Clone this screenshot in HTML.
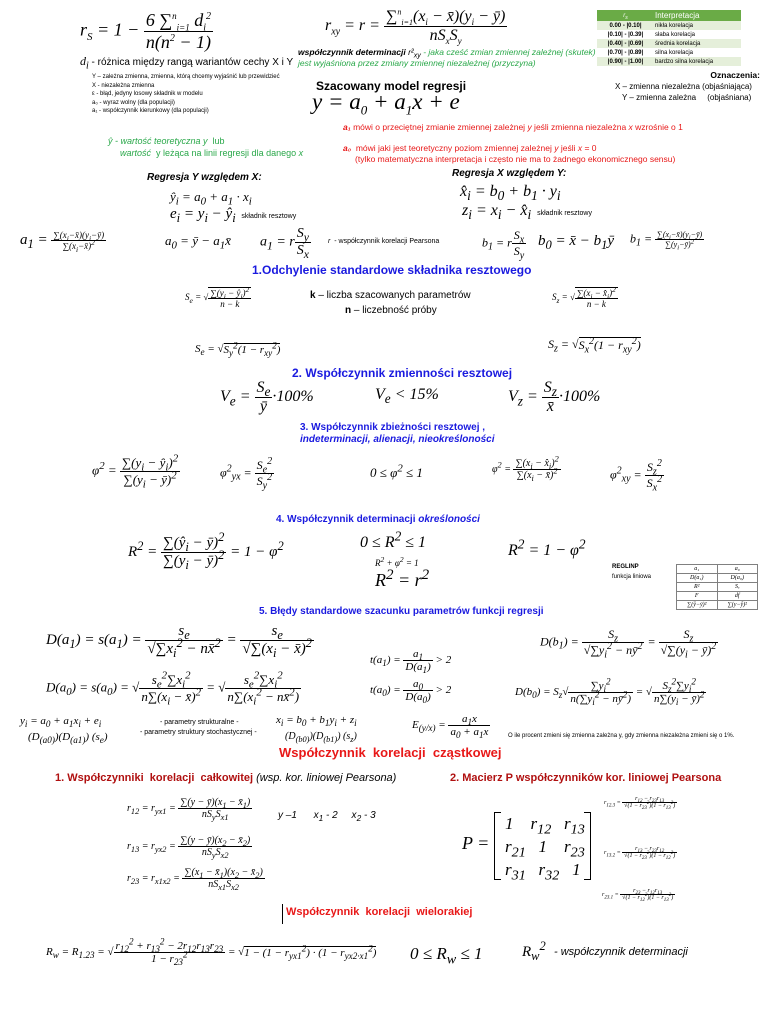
<!DOCTYPE html>
<html><head><meta charset="utf-8"><style>
body{margin:0;width:768px;height:1024px;background:#fff;position:relative;overflow:hidden;font-family:"Liberation Sans",sans-serif;color:#000}
.a{position:absolute;white-space:nowrap}
sub,sup{line-height:0}
.m{font-family:"Liberation Serif",serif;font-style:italic}
.fr{display:inline-block;vertical-align:middle;text-align:center}
.fr>span{display:block;padding:0 2px}
.fr>span:first-child{border-bottom:1px solid #000}
.sq{display:inline-block;border-top:1px solid #000;vertical-align:middle}
.blue{color:#1a1adf;font-weight:bold}
.red{color:#e81818}
.green{color:#2aa84a}
.dr{color:#b01010;font-weight:bold}
table{border-collapse:collapse}
.br{position:absolute;width:6px;border:1.5px solid #000}
</style></head><body>

<div class="a m" style="left:80px;top:10px;font-size:18px">r<sub style="font-size:11px">S</sub> = 1 − <span class="fr"><span>6 ∑<sup style="font-size:9px">n</sup><sub style="font-size:9px">i=1</sub> d<sub style="font-size:10px">i</sub><sup style="font-size:10px">2</sup></span><span>n(n<sup style="font-size:10px">2</sup> − 1)</span></span></div>
<div class="a" style="left:80px;top:54px;font-size:10px"><span class="m" style="font-size:12px">d<sub>i</sub></span> - różnica między rangą wariantów cechy X i Y</div>
<div class="a" style="left:92px;top:73px;font-size:6px;line-height:8.5px">Y – zależna zmienna, zmienna, którą chcemy wyjaśnić lub przewidzieć<br>X - niezależna zmienna<br>ε - błąd, jedyny losowy składnik w modelu<br>a₀ - wyraz wolny (dla populacji)<br>a₁ - współczynnik kierunkowy (dla populacji)</div>
<div class="a green" style="left:108px;top:136px;font-size:9px;font-style:italic">ŷ - wartość teoretyczna y &nbsp;<span style="font-style:normal">lub</span></div>
<div class="a green" style="left:120px;top:148px;font-size:9px"><i>wartość</i> &nbsp;y leżąca na linii regresji dla danego <i>x</i></div>

<div class="a m" style="left:325px;top:8px;font-size:16px">r<sub style="font-size:10px">xy</sub> = r = <span class="fr"><span>∑<sup style="font-size:8px">n</sup><sub style="font-size:8px">i=1</sub>(x<sub style="font-size:9px">i</sub> − x̄)(y<sub style="font-size:9px">i</sub> − ȳ)</span><span>nS<sub style="font-size:9px">x</sub>S<sub style="font-size:9px">y</sub></span></span></div>
<div class="a" style="left:298px;top:47px;font-size:8.5px"><b><i>współczynnik determinacji</i></b> <i>r²<sub>xy</sub></i> <span class="green"><i>- jaka cześć zmian zmiennej zależnej (skutek)</i></span></div>
<div class="a green" style="left:298px;top:58px;font-size:8.5px;font-style:italic">jest wyjaśniona przez zmiany zmiennej niezależnej (przyczyna)</div>

<table class="a" style="left:597px;top:10px;width:144px;font-size:6px">
<tr style="background:#6aab46;color:#fff;height:10px"><td style="text-align:center;width:55px"><i>r<sub>s</sub></i></td><td style="font-size:8px">Interpretacja</td></tr>
<tr style="background:#e5efda;height:9px"><td style="text-align:center;font-weight:bold">0.00 - |0.10|</td><td>nikła korelacja</td></tr>
<tr style="height:9px"><td style="text-align:center;font-weight:bold">|0.10| - |0.39|</td><td>słaba korelacja</td></tr>
<tr style="background:#e5efda;height:9px"><td style="text-align:center;font-weight:bold">|0.40| - |0.69|</td><td>średnia korelacja</td></tr>
<tr style="height:9px"><td style="text-align:center;font-weight:bold">|0.70| - |0.89|</td><td>silna korelacja</td></tr>
<tr style="background:#e5efda;height:9px"><td style="text-align:center;font-weight:bold">|0.90| - |1.00|</td><td>bardzo silna korelacja</td></tr>
</table>
<div class="a" style="right:8px;top:70px;font-size:8.5px;font-weight:bold">Oznaczenia:</div>
<div class="a" style="left:615px;top:82px;font-size:8px">X – zmienna niezależna (objaśniająca)</div>
<div class="a" style="left:622px;top:93px;font-size:8px">Y – zmienna zależna &nbsp;&nbsp;&nbsp;&nbsp;(objaśniana)</div>

<div class="a" style="left:316px;top:79px;font-size:12px;font-weight:bold">Szacowany model regresji</div>
<div class="a m" style="left:312px;top:89px;font-size:23px">y = a<sub style="font-size:13px">0</sub> + a<sub style="font-size:13px">1</sub>x + e</div>
<div class="a red" style="left:343px;top:122px;font-size:8.5px"><b><i>a₁</i></b> mówi o przeciętnej zmianie zmiennej zależnej <i>y</i> jeśli zmienna niezależna <i>x</i> wzrośnie o 1</div>
<div class="a red" style="left:343px;top:143px;font-size:8.5px"><b><i>a₀</i></b> &nbsp;mówi jaki jest teoretyczny poziom zmiennej zależnej <i>y</i> jeśli <i>x</i> = 0</div>
<div class="a red" style="left:355px;top:154px;font-size:8.5px">(tylko matematyczna interpretacja i często nie ma to żadnego ekonomicznego sensu)</div>

<div class="a" style="left:147px;top:172px;font-size:10px;font-weight:bold;font-style:italic">Regresja Y względem X:</div>
<div class="a" style="left:452px;top:168px;font-size:10px;font-weight:bold;font-style:italic">Regresja X względem Y:</div>
<div class="a m" style="left:170px;top:189px;font-size:13px">ŷ<sub>i</sub> = a<sub>0</sub> + a<sub>1</sub> · x<sub>i</sub></div>
<div class="a m" style="left:170px;top:206px;font-size:15px">e<sub>i</sub> = y<sub>i</sub> − ŷ<sub>i</sub> <span style="font-family:'Liberation Sans';font-style:normal;font-size:7px">&nbsp;składnik resztowy</span></div>
<div class="a m" style="left:460px;top:183px;font-size:16px">x̂<sub>i</sub> = b<sub>0</sub> + b<sub>1</sub> · y<sub>i</sub></div>
<div class="a m" style="left:462px;top:202px;font-size:16px">z<sub>i</sub> = x<sub>i</sub> − x̂<sub>i</sub> <span style="font-family:'Liberation Sans';font-style:normal;font-size:7px">&nbsp;składnik resztowy</span></div>

<div class="a m" style="left:20px;top:230px;font-size:15px">a<sub>1</sub> = <span class="fr" style="font-size:9px"><span>∑(x<sub>i</sub>−x̄)(y<sub>i</sub>−ȳ)</span><span>∑(x<sub>i</sub>−x̄)<sup>2</sup></span></span></div>
<div class="a m" style="left:165px;top:233px;font-size:13px">a<sub>0</sub> = ȳ − a<sub>1</sub>x̄</div>
<div class="a m" style="left:260px;top:226px;font-size:14px">a<sub>1</sub> = r<span class="fr"><span>S<sub>y</sub></span><span>S<sub>x</sub></span></span></div>
<div class="a" style="left:328px;top:238px;font-size:7px"><i>r</i> &nbsp;- współczynnik korelacji Pearsona</div>
<div class="a m" style="left:482px;top:228px;font-size:12px">b<sub>1</sub> = r<span class="fr"><span>S<sub>x</sub></span><span>S<sub>y</sub></span></span></div>
<div class="a m" style="left:538px;top:233px;font-size:15px">b<sub>0</sub> = x̄ − b<sub>1</sub>ȳ</div>
<div class="a m" style="left:630px;top:230px;font-size:12px">b<sub>1</sub> = <span class="fr" style="font-size:8px"><span>∑(x<sub>i</sub>−x̄)(y<sub>i</sub>−ȳ)</span><span>∑(y<sub>i</sub>−ȳ)<sup>2</sup></span></span></div>

<div class="a blue" style="left:252px;top:263px;font-size:12px">1.Odchylenie standardowe składnika resztowego</div>

<div class="a m" style="left:185px;top:287px;font-size:9px">S<sub>e</sub> = √<span class="sq"><span class="fr"><span>∑(y<sub>i</sub> − ŷ<sub>i</sub>)<sup>2</sup></span><span style="border:0">n − k</span></span></span></div>
<div class="a" style="left:310px;top:290px;font-size:10px"><b>k</b> – liczba szacowanych parametrów</div>
<div class="a" style="left:345px;top:305px;font-size:10px"><b>n</b> – liczebność próby</div>
<div class="a m" style="left:552px;top:287px;font-size:9px">S<sub>z</sub> = √<span class="sq"><span class="fr"><span>∑(x<sub>i</sub> − x̂<sub>i</sub>)<sup>2</sup></span><span style="border:0">n − k</span></span></span></div>
<div class="a m" style="left:195px;top:343px;font-size:11px">S<sub>e</sub> = √<span class="sq">S<sub>y</sub><sup>2</sup>(1 − r<sub>xy</sub><sup>2</sup>)</span></div>
<div class="a m" style="left:548px;top:337px;font-size:12px">S<sub>z</sub> = √<span class="sq">S<sub>x</sub><sup>2</sup>(1 − r<sub>xy</sub><sup>2</sup>)</span></div>

<div class="a blue" style="left:292px;top:366px;font-size:12px">2. Współczynnik zmienności resztowej</div>
<div class="a m" style="left:220px;top:379px;font-size:16px">V<sub>e</sub> = <span class="fr"><span>S<sub>e</sub></span><span>ȳ</span></span>·100%</div>
<div class="a m" style="left:375px;top:386px;font-size:16px">V<sub>e</sub> &lt; 15%</div>
<div class="a m" style="left:508px;top:379px;font-size:16px">V<sub>z</sub> = <span class="fr"><span>S<sub>z</sub></span><span>x̄</span></span>·100%</div>

<div class="a blue" style="left:300px;top:422px;font-size:10px">3. Współczynnik zbieżności resztowej ,</div>
<div class="a blue" style="left:300px;top:434px;font-size:10px;font-style:italic">indeterminacji, alienacji, nieokreśloności</div>

<div class="a m" style="left:92px;top:455px;font-size:13px">φ<sup>2</sup> = <span class="fr"><span>∑(y<sub>i</sub> − ŷ<sub>i</sub>)<sup>2</sup></span><span>∑(y<sub>i</sub> − ȳ)<sup>2</sup></span></span></div>
<div class="a m" style="left:220px;top:458px;font-size:12px">φ<sup>2</sup><sub>yx</sub> = <span class="fr"><span>S<sub>e</sub><sup>2</sup></span><span>S<sub>y</sub><sup>2</sup></span></span></div>
<div class="a m" style="left:370px;top:465px;font-size:13px">0 ≤ φ<sup>2</sup> ≤ 1</div>
<div class="a m" style="left:492px;top:458px;font-size:10px">φ<sup>2</sup> = <span class="fr"><span>∑(x<sub>i</sub> − x̂<sub>i</sub>)<sup>2</sup></span><span>∑(x<sub>i</sub> − x̄)<sup>2</sup></span></span></div>
<div class="a m" style="left:610px;top:460px;font-size:12px">φ<sup>2</sup><sub>xy</sub> = <span class="fr"><span>S<sub>z</sub><sup>2</sup></span><span>S<sub>x</sub><sup>2</sup></span></span></div>

<div class="a blue" style="left:276px;top:514px;font-size:10px">4. Współczynnik determinacji <i>określoności</i></div>
<div class="a m" style="left:128px;top:535px;font-size:15px">R<sup>2</sup> = <span class="fr"><span>∑(ŷ<sub>i</sub> − ȳ)<sup>2</sup></span><span>∑(y<sub>i</sub> − ȳ)<sup>2</sup></span></span> = 1 − φ<sup>2</sup></div>
<div class="a m" style="left:360px;top:534px;font-size:16px">0 ≤ R<sup>2</sup> ≤ 1</div>
<div class="a m" style="left:375px;top:558px;font-size:9px">R<sup>2</sup> + φ<sup>2</sup> = 1</div>
<div class="a m" style="left:375px;top:570px;font-size:18px">R<sup>2</sup> = r<sup>2</sup></div>
<div class="a m" style="left:508px;top:542px;font-size:16px">R<sup>2</sup> = 1 − φ<sup>2</sup></div>
<div class="a" style="left:612px;top:564px;font-size:6px;font-weight:bold">REGLINP</div>
<div class="a" style="left:612px;top:574px;font-size:6px">funkcja liniowa</div>
<table class="a m" style="left:676px;top:564px;width:82px;font-size:6px;text-align:center" border="1">
<tr><td>a₁</td><td>a₀</td></tr><tr><td>D(a₁)</td><td>D(a₀)</td></tr><tr><td>R²</td><td>Sₑ</td></tr><tr><td>F</td><td>df</td></tr><tr><td>∑(ŷ−ȳ)²</td><td>∑(y−ŷ)²</td></tr></table>

<div class="a blue" style="left:259px;top:606px;font-size:10px">5. Błędy standardowe szacunku parametrów funkcji regresji</div>
<div class="a m" style="left:46px;top:623px;font-size:15px">D(a<sub>1</sub>) = s(a<sub>1</sub>) = <span class="fr"><span>s<sub>e</sub></span><span>√∑x<sub>i</sub><sup>2</sup> − nx̄<sup>2</sup></span></span> = <span class="fr"><span>s<sub>e</sub></span><span>√∑(x<sub>i</sub> − x̄)<sup>2</sup></span></span></div>
<div class="a m" style="left:46px;top:672px;font-size:13px">D(a<sub>0</sub>) = s(a<sub>0</sub>) = √<span class="fr"><span>s<sub>e</sub><sup>2</sup>∑x<sub>i</sub><sup>2</sup></span><span>n∑(x<sub>i</sub> − x̄)<sup>2</sup></span></span> = √<span class="fr"><span>s<sub>e</sub><sup>2</sup>∑x<sub>i</sub><sup>2</sup></span><span>n∑(x<sub>i</sub><sup>2</sup> − nx̄<sup>2</sup>)</span></span></div>
<div class="a m" style="left:370px;top:648px;font-size:11px">t(a<sub>1</sub>) = <span class="fr"><span>a<sub>1</sub></span><span>D(a<sub>1</sub>)</span></span> &gt; 2</div>
<div class="a m" style="left:370px;top:678px;font-size:11px">t(a<sub>0</sub>) = <span class="fr"><span>a<sub>0</sub></span><span>D(a<sub>0</sub>)</span></span> &gt; 2</div>
<div class="a m" style="left:540px;top:627px;font-size:12px">D(b<sub>1</sub>) = <span class="fr"><span>S<sub>z</sub></span><span>√∑y<sub>i</sub><sup>2</sup> − nȳ<sup>2</sup></span></span> = <span class="fr"><span>S<sub>z</sub></span><span>√∑(y<sub>i</sub> − ȳ)<sup>2</sup></span></span></div>
<div class="a m" style="left:515px;top:680px;font-size:11px">D(b<sub>0</sub>) = S<sub>z</sub>√<span class="fr"><span>∑y<sub>i</sub><sup>2</sup></span><span>n(∑y<sub>i</sub><sup>2</sup> − nȳ<sup>2</sup>)</span></span> = √<span class="fr"><span>S<sub>z</sub><sup>2</sup>∑y<sub>i</sub><sup>2</sup></span><span>n∑(y<sub>i</sub> − ȳ)<sup>2</sup></span></span></div>

<div class="a m" style="left:20px;top:715px;font-size:11px">y<sub>i</sub> = a<sub>0</sub> + a<sub>1</sub>x<sub>i</sub> + e<sub>i</sub></div>
<div class="a m" style="left:28px;top:731px;font-size:11px">(D<sub>(a0)</sub>)(D<sub>(a1)</sub>) (s<sub>e</sub>)</div>
<div class="a" style="left:160px;top:719px;font-size:7px">- parametry strukturalne -</div>
<div class="a" style="left:140px;top:729px;font-size:7px">- parametry struktury stochastycznej -</div>
<div class="a m" style="left:276px;top:714px;font-size:11px">x<sub>i</sub> = b<sub>0</sub> + b<sub>1</sub>y<sub>i</sub> + z<sub>i</sub></div>
<div class="a m" style="left:285px;top:731px;font-size:10px">(D<sub>(b0)</sub>)(D<sub>(b1)</sub>) (s<sub>z</sub>)</div>
<div class="a m" style="left:412px;top:713px;font-size:11px">E<sub>(y/x)</sub> = <span class="fr"><span>a<sub>1</sub>x</span><span>a<sub>0</sub> + a<sub>1</sub>x</span></span></div>
<div class="a" style="left:508px;top:733px;font-size:6px">O ile procent zmieni się zmienna zależna y, gdy zmienna niezależna zmieni się o 1%.</div>

<div class="a red" style="left:279px;top:745px;font-size:13px;font-weight:bold">Współczynnik &nbsp;korelacji &nbsp;cząstkowej</div>

<div class="a dr" style="left:55px;top:772px;font-size:11px">1. Współczynniki &nbsp;korelacji &nbsp;całkowitej <span style="color:#000;font-weight:normal;font-style:italic">(wsp. kor. liniowej Pearsona)</span></div>
<div class="a dr" style="left:450px;top:772px;font-size:11px">2. Macierz P współczynników kor. liniowej Pearsona</div>

<div class="a m" style="left:127px;top:797px;font-size:10px">r<sub>12</sub> = r<sub>yx1</sub> = <span class="fr"><span>∑(y − ȳ)(x<sub>1</sub> − x̄<sub>1</sub>)</span><span>nS<sub>y</sub>S<sub>x1</sub></span></span></div>
<div class="a m" style="left:127px;top:835px;font-size:10px">r<sub>13</sub> = r<sub>yx2</sub> = <span class="fr"><span>∑(y − ȳ)(x<sub>2</sub> − x̄<sub>2</sub>)</span><span>nS<sub>y</sub>S<sub>x2</sub></span></span></div>
<div class="a m" style="left:127px;top:867px;font-size:10px">r<sub>23</sub> = r<sub>x1x2</sub> = <span class="fr"><span>∑(x<sub>1</sub> − x̄<sub>1</sub>)(x<sub>2</sub> − x̄<sub>2</sub>)</span><span>nS<sub>x1</sub>S<sub>x2</sub></span></span></div>
<div class="a" style="left:278px;top:810px;font-size:10px;font-style:italic">y –1 &nbsp;&nbsp;&nbsp;&nbsp;&nbsp;x<sub>1</sub> - 2 &nbsp;&nbsp;&nbsp;&nbsp;x<sub>2</sub> - 3</div>

<div class="a m" style="left:462px;top:833px;font-size:18px">P =</div>
<div class="br" style="left:494px;top:838px;height:93px;top:838px;display:none"></div>
<div class="br" style="left:494px;top:838px;display:none"></div>
<div class="a" style="left:494px;top:838px"></div>
<div class="br" style="left:494px;top:838px;display:none"></div>
<div class="a" style="left:494px;top:838px"></div>
<div class="a" style="left:494px;top:838px"></div>
<div class="a" style="left:494px;top:838px"></div>
<div class="br" style="left:493px;top:838px;display:none"></div>
<div class="a" style="left:493px;top:838px"></div>
<div class="br" style="left:494px;top:838px;display:none"></div>
<div class="br" style="left:494px;top:838px;display:none"></div>
<div class="br" style="left:494px;top:837px;display:none"></div>
<div class="br" style="left:494px;top:837px;display:none"></div>
<div class="br" style="left:494px;top:836px;display:none"></div>
<div class="br" style="left:494px;top:836px;display:none"></div>
<div class="br" style="left:494px;top:836px;display:none"></div>
<div class="br" style="left:494px;top:836px;display:none"></div>
<div class="br" style="left:494px;top:812px;height:66px;border-right:none"></div>
<div class="br" style="left:584px;top:812px;height:66px;border-left:none"></div>
<div class="a m" style="left:505px;top:812px;font-size:17px;line-height:23px">1 &nbsp;&nbsp;&nbsp;r<sub>12</sub> &nbsp;&nbsp;r<sub>13</sub><br>r<sub>21</sub> &nbsp;&nbsp;1 &nbsp;&nbsp;&nbsp;r<sub>23</sub><br>r<sub>31</sub> &nbsp;&nbsp;r<sub>32</sub> &nbsp;&nbsp;1</div>
<div class="a m" style="left:604px;top:796px;font-size:6px">r<sub>12.3</sub> = <span class="fr"><span>r<sub>12</sub> − r<sub>23</sub>r<sub>13</sub></span><span>√(1 − r<sub>23</sub><sup>2</sup>)(1 − r<sub>13</sub><sup>2</sup>)</span></span></div>
<div class="a m" style="left:604px;top:846px;font-size:6px">r<sub>13.2</sub> = <span class="fr"><span>r<sub>13</sub> − r<sub>23</sub>r<sub>12</sub></span><span>√(1 − r<sub>23</sub><sup>2</sup>)(1 − r<sub>12</sub><sup>2</sup>)</span></span></div>
<div class="a m" style="left:602px;top:888px;font-size:6px">r<sub>23.1</sub> = <span class="fr"><span>r<sub>23</sub> − r<sub>12</sub>r<sub>13</sub></span><span>√(1 − r<sub>12</sub><sup>2</sup>)(1 − r<sub>13</sub><sup>2</sup>)</span></span></div>

<div class="a" style="left:282px;top:904px;width:1px;height:20px;background:#000"></div>
<div class="a red" style="left:286px;top:906px;font-size:11px;font-weight:bold">Współczynnik &nbsp;korelacji &nbsp;wielorakiej</div>
<div class="a m" style="left:46px;top:940px;font-size:11px">R<sub>w</sub> = R<sub>1.23</sub> = √<span class="fr"><span>r<sub>12</sub><sup>2</sup> + r<sub>13</sub><sup>2</sup> − 2r<sub>12</sub>r<sub>13</sub>r<sub>23</sub></span><span>1 − r<sub>23</sub><sup>2</sup></span></span> = √<span class="sq">1 − (1 − r<sub>yx1</sub><sup>2</sup>) · (1 − r<sub>yx2·x1</sub><sup>2</sup>)</span></div>
<div class="a m" style="left:410px;top:944px;font-size:17px">0 ≤ R<sub>w</sub> ≤ 1</div>
<div class="a m" style="left:522px;top:944px;font-size:15px">R<sub>w</sub><sup>2</sup></div>
<div class="a" style="left:554px;top:946px;font-size:11px;font-style:italic">- współczynnik determinacji</div>
</body></html>
